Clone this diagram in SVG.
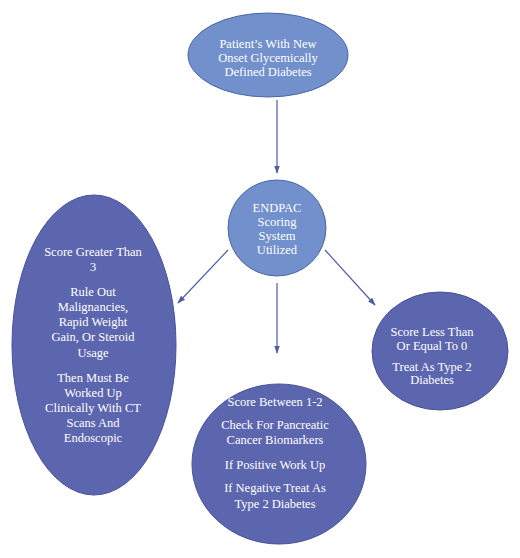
<svg xmlns="http://www.w3.org/2000/svg" width="520" height="558" viewBox="0 0 520 558">
<defs>
<style>
.light{fill:#7190cc;stroke:#4a66a8;stroke-width:1}
.dark{fill:#5c66ae;stroke:#47529a;stroke-width:1}
text{font-family:"Liberation Serif","Times New Roman",serif;font-size:12.5px;fill:#ffffff;text-anchor:middle}
.conn line{stroke:#4e5ca8;stroke-width:1.2;fill:none}
</style>
<marker id="ah" viewBox="0 0 10 10" refX="9" refY="5" markerWidth="8" markerHeight="8" orient="auto" markerUnits="userSpaceOnUse">
<path d="M0,1.5 L10,5 L0,8.5 z" fill="#4e5ca8"/>
</marker>
</defs>
<rect width="520" height="558" fill="#ffffff"/>
<g class="conn">
<line x1="277" y1="100" x2="277" y2="173" marker-end="url(#ah)"/>
<line x1="228" y1="250" x2="178" y2="303" marker-end="url(#ah)"/>
<line x1="277" y1="283" x2="277" y2="353" marker-end="url(#ah)"/>
<line x1="325" y1="250" x2="375" y2="305" marker-end="url(#ah)"/>
</g>
<g id="node-start">
<ellipse class="light" cx="268" cy="55" rx="80" ry="42"/>
<text x="268" y="47.5">Patient’s With New</text>
<text x="268" y="61.5">Onset Glycemically</text>
<text x="268" y="75.5">Defined Diabetes</text>
</g>
<g id="node-endpac">
<ellipse class="light" cx="277" cy="228" rx="49" ry="48"/>
<text x="277" y="211.5">ENDPAC</text>
<text x="277" y="226">Scoring</text>
<text x="277" y="240">System</text>
<text x="277" y="254">Utilized</text>
</g>
<g id="node-high">
<ellipse class="dark" cx="94" cy="345" rx="82" ry="150"/>
<text x="93" y="256">Score Greater Than</text>
<text x="93" y="270.5">3</text>
<text x="93" y="295.5">Rule Out</text>
<text x="93" y="311">Malignancies,</text>
<text x="93" y="326">Rapid Weight</text>
<text x="93" y="341">Gain, Or Steroid</text>
<text x="93" y="357">Usage</text>
<text x="93" y="382">Then Must Be</text>
<text x="93" y="397">Worked Up</text>
<text x="93" y="412">Clinically With CT</text>
<text x="93" y="427">Scans And</text>
<text x="93" y="442">Endoscopic</text>
</g>
<g id="node-mid">
<ellipse class="dark" cx="279" cy="464" rx="87" ry="80"/>
<text x="275" y="406">Score Between 1-2</text>
<text x="275" y="429">Check For Pancreatic</text>
<text x="275" y="444">Cancer Biomarkers</text>
<text x="275" y="469">If Positive Work Up</text>
<text x="275" y="492">If Negative Treat As</text>
<text x="275" y="508">Type 2 Diabetes</text>
</g>
<g id="node-low">
<ellipse class="dark" cx="440" cy="351" rx="68" ry="59"/>
<text x="432" y="336">Score Less Than</text>
<text x="432" y="350">Or Equal To 0</text>
<text x="432" y="371">Treat As Type 2</text>
<text x="432" y="384">Diabetes</text>
</g>
</svg>
